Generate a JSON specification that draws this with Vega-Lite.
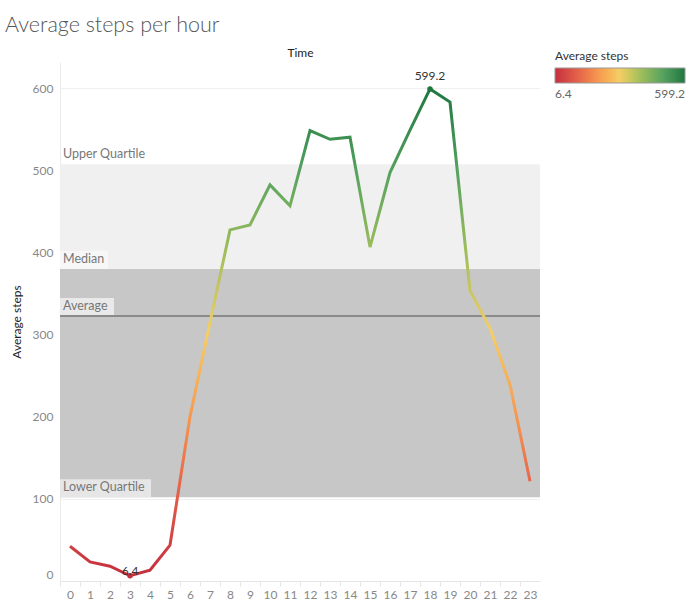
{
  "$schema": "https://vega.github.io/schema/vega-lite/v6.json",
  "width": 480,
  "height": 519,
  "autosize": "none",
  "padding": {"top": 62, "left": 60, "right": 150, "bottom": 22},
  "title": {
    "text": "Average steps per hour",
    "anchor": "start",
    "frame": "group",
    "dx": -55,
    "offset": 10,
    "fontSize": 21.5,
    "fontWeight": 300,
    "color": "#555555",
    "font": "Lato"
  },
  "config": {
    "font": "Lato",
    "view": {"stroke": null},
    "axis": {"labelFont": "Lato", "titleFont": "Lato"},
    "axisY": {
      "titleFontSize": 12,
      "titleFontWeight": "normal",
      "titleColor": "#222222",
      "titlePadding": 9,
      "ticks": false,
      "labelPadding": 7,
      "labelColor": "#888888",
      "labelFontSize": 12,
      "labelFlush": true,
      "labelFlushOffset": 0,
      "gridColor": "#f0f0f0",
      "domainColor": "#ebebeb",
      "zindex": 1
    }
  },
  "data": {
    "values": [
      {"hour": 0, "steps": 42.3},
      {"hour": 1, "steps": 23.3},
      {"hour": 2, "steps": 18.0},
      {"hour": 3, "steps": 6.4},
      {"hour": 4, "steps": 13.2},
      {"hour": 5, "steps": 43.6},
      {"hour": 6, "steps": 200.0},
      {"hour": 7, "steps": 315.0},
      {"hour": 8, "steps": 427.6},
      {"hour": 9, "steps": 433.7},
      {"hour": 10, "steps": 482.4},
      {"hour": 11, "steps": 456.8},
      {"hour": 12, "steps": 548.4},
      {"hour": 13, "steps": 537.9},
      {"hour": 14, "steps": 540.4},
      {"hour": 15, "steps": 406.6},
      {"hour": 16, "steps": 497.4},
      {"hour": 17, "steps": 549.0},
      {"hour": 18, "steps": 599.2},
      {"hour": 19, "steps": 583.3},
      {"hour": 20, "steps": 353.8},
      {"hour": 21, "steps": 308.0},
      {"hour": 22, "steps": 239.0},
      {"hour": 23, "steps": 121.4}
    ]
  },
  "resolve": {"axis": {"x": "independent"}},
  "layer": [
    {
      "transform": [
        {"aggregate": [
          {"op": "q1", "field": "steps", "as": "q1_lo"},
          {"op": "median", "field": "steps", "as": "med_hi"}
        ]}
      ],
      "mark": {"type": "rect", "color": "#c7c7c7"},
      "encoding": {
        "y": {"field": "q1_lo", "type": "quantitative", "title": "Average steps"},
        "y2": {"field": "med_hi"}
      }
    },
    {
      "transform": [
        {"aggregate": [
          {"op": "median", "field": "steps", "as": "med_lo"},
          {"op": "q3", "field": "steps", "as": "q3_hi"}
        ]}
      ],
      "mark": {"type": "rect", "color": "#f0f0f0"},
      "encoding": {
        "y": {"field": "med_lo", "type": "quantitative", "title": "Average steps"},
        "y2": {"field": "q3_hi"}
      }
    },
    {
      "transform": [
        {"aggregate": [{"op": "median", "field": "steps", "as": "med_box"}]}
      ],
      "mark": {"type": "rect", "color": "#f7f7f7", "height": 18, "yOffset": -9},
      "encoding": {
        "x": {"datum": -0.5, "type": "quantitative", "axis": null},
        "x2": {"datum": 1.9},
        "y": {"field": "med_box", "type": "quantitative", "title": "Average steps"}
      }
    },
    {
      "transform": [
        {"aggregate": [{"op": "mean", "field": "steps", "as": "avg_box"}]}
      ],
      "mark": {"type": "rect", "color": "#e9e9e9", "height": 18, "yOffset": -9},
      "encoding": {
        "x": {"datum": -0.5, "type": "quantitative", "axis": null},
        "x2": {"datum": 2.2},
        "y": {"field": "avg_box", "type": "quantitative", "title": "Average steps"}
      }
    },
    {
      "transform": [
        {"aggregate": [{"op": "q1", "field": "steps", "as": "q1_box"}]}
      ],
      "mark": {"type": "rect", "color": "#e6e6e6", "height": 18, "yOffset": -9},
      "encoding": {
        "x": {"datum": -0.5, "type": "quantitative", "axis": null},
        "x2": {"datum": 4.05},
        "y": {"field": "q1_box", "type": "quantitative", "title": "Average steps"}
      }
    },
    {
      "transform": [
        {"aggregate": [{"op": "mean", "field": "steps", "as": "avg_line"}]}
      ],
      "mark": {"type": "rule", "color": "#8a8a8a", "strokeWidth": 2},
      "encoding": {
        "y": {"field": "avg_line", "type": "quantitative", "title": "Average steps"}
      }
    },
    {
      "transform": [
        {"aggregate": [{"op": "q3", "field": "steps", "as": "q3_label"}]}
      ],
      "mark": {"type": "text", "align": "left", "baseline": "bottom", "dx": 3, "dy": -3, "fontSize": 12.5, "color": "#777777"},
      "encoding": {
        "x": {"datum": -0.5, "type": "quantitative", "axis": null},
        "y": {"field": "q3_label", "type": "quantitative", "title": "Average steps"},
        "text": {"value": "Upper Quartile"}
      }
    },
    {
      "transform": [
        {"aggregate": [{"op": "median", "field": "steps", "as": "med_label"}]}
      ],
      "mark": {"type": "text", "align": "left", "baseline": "bottom", "dx": 3, "dy": -3, "fontSize": 12.5, "color": "#777777"},
      "encoding": {
        "x": {"datum": -0.5, "type": "quantitative", "axis": null},
        "y": {"field": "med_label", "type": "quantitative", "title": "Average steps"},
        "text": {"value": "Median"}
      }
    },
    {
      "transform": [
        {"aggregate": [{"op": "mean", "field": "steps", "as": "avg_label"}]}
      ],
      "mark": {"type": "text", "align": "left", "baseline": "bottom", "dx": 3, "dy": -3, "fontSize": 12.5, "color": "#777777"},
      "encoding": {
        "x": {"datum": -0.5, "type": "quantitative", "axis": null},
        "y": {"field": "avg_label", "type": "quantitative", "title": "Average steps"},
        "text": {"value": "Average"}
      }
    },
    {
      "transform": [
        {"aggregate": [{"op": "q1", "field": "steps", "as": "q1_label"}]}
      ],
      "mark": {"type": "text", "align": "left", "baseline": "bottom", "dx": 3, "dy": -3, "fontSize": 12.5, "color": "#777777"},
      "encoding": {
        "x": {"datum": -0.5, "type": "quantitative", "axis": null},
        "y": {"field": "q1_label", "type": "quantitative", "title": "Average steps"},
        "text": {"value": "Lower Quartile"}
      }
    },
    {
      "mark": {
        "type": "line",
        "strokeWidth": 3,
        "color": {
          "gradient": "linear",
          "x1": 0, "y1": 1, "x2": 0, "y2": 0,
          "stops": [
            {"offset": 0, "color": "#c42f3e"},
            {"offset": 0.17, "color": "#e35f4a"},
            {"offset": 0.33, "color": "#f7984f"},
            {"offset": 0.5, "color": "#f5cf65"},
            {"offset": 0.67, "color": "#9dbd5c"},
            {"offset": 0.83, "color": "#55a25f"},
            {"offset": 1, "color": "#1f773f"}
          ]
        }
      },
      "encoding": {
        "x": {
          "field": "hour",
          "type": "quantitative",
          "scale": {"domain": [-0.5, 23.5], "nice": false, "zero": false},
          "axis": {
            "orient": "bottom",
            "title": null,
            "values": [0, 1, 2, 3, 4, 5, 6, 7, 8, 9, 10, 11, 12, 13, 14, 15, 16, 17, 18, 19, 20, 21, 22, 23],
            "grid": false,
            "tickOffset": -10,
            "labelOffset": 10,
            "tickSize": 5,
            "tickColor": "#e6e6e6",
            "domainColor": "#e6e6e6",
            "labelColor": "#888888",
            "labelFontSize": 12,
            "labelPadding": 3,
            "labelFlush": false
          }
        },
        "y": {
          "field": "steps",
          "type": "quantitative",
          "title": "Average steps",
          "scale": {"domain": [0, 632], "nice": false},
          "axis": {"values": [0, 100, 200, 300, 400, 500, 600]}
        }
      }
    },
    {
      "transform": [
        {"joinaggregate": [
          {"op": "min", "field": "steps", "as": "lo"},
          {"op": "max", "field": "steps", "as": "hi"}
        ]},
        {"filter": "datum.steps == datum.lo || datum.steps == datum.hi"}
      ],
      "mark": {"type": "point", "filled": true, "size": 30, "opacity": 1},
      "encoding": {
        "x": {
          "field": "hour",
          "type": "quantitative",
          "axis": {
            "orient": "top",
            "title": "Time",
            "titleFontSize": 12,
            "titleFontWeight": "normal",
            "titleColor": "#222222",
            "titlePadding": 3,
            "labels": false,
            "ticks": false,
            "domain": false,
            "grid": false
          }
        },
        "y": {"field": "steps", "type": "quantitative", "title": "Average steps"},
        "color": {
          "field": "steps",
          "type": "quantitative",
          "title": "Average steps",
          "scale": {
            "range": ["#c42f3e", "#e35f4a", "#f7984f", "#f5cf65", "#9dbd5c", "#55a25f", "#1f773f"]
          },
          "legend": {
            "orient": "none",
            "legendX": 495,
            "legendY": -11,
            "direction": "horizontal",
            "gradientLength": 130,
            "gradientThickness": 15,
            "gradientStrokeColor": "#999999",
            "gradientStrokeWidth": 1,
            "values": [6.4, 599.2],
            "format": ".1f",
            "labelOffset": 6,
            "titleFontSize": 12,
            "titleFontWeight": "normal",
            "titleColor": "#333333",
            "labelFontSize": 12,
            "labelColor": "#666666"
          }
        }
      }
    },
    {
      "transform": [
        {"joinaggregate": [{"op": "min", "field": "steps", "as": "lo"}]},
        {"filter": "datum.steps == datum.lo"}
      ],
      "mark": {"type": "text", "baseline": "middle", "dy": -5, "fontSize": 12, "color": "#333333"},
      "encoding": {
        "x": {"field": "hour", "type": "quantitative", "axis": null},
        "y": {"field": "steps", "type": "quantitative", "title": "Average steps"},
        "text": {"field": "steps", "type": "quantitative", "format": ".1f"}
      }
    },
    {
      "transform": [
        {"joinaggregate": [{"op": "max", "field": "steps", "as": "hi"}]},
        {"filter": "datum.steps == datum.hi"}
      ],
      "mark": {"type": "text", "baseline": "middle", "dy": -13, "fontSize": 12, "color": "#333333"},
      "encoding": {
        "x": {"field": "hour", "type": "quantitative", "axis": null},
        "y": {"field": "steps", "type": "quantitative", "title": "Average steps"},
        "text": {"field": "steps", "type": "quantitative", "format": ".1f"}
      }
    }
  ]
}
